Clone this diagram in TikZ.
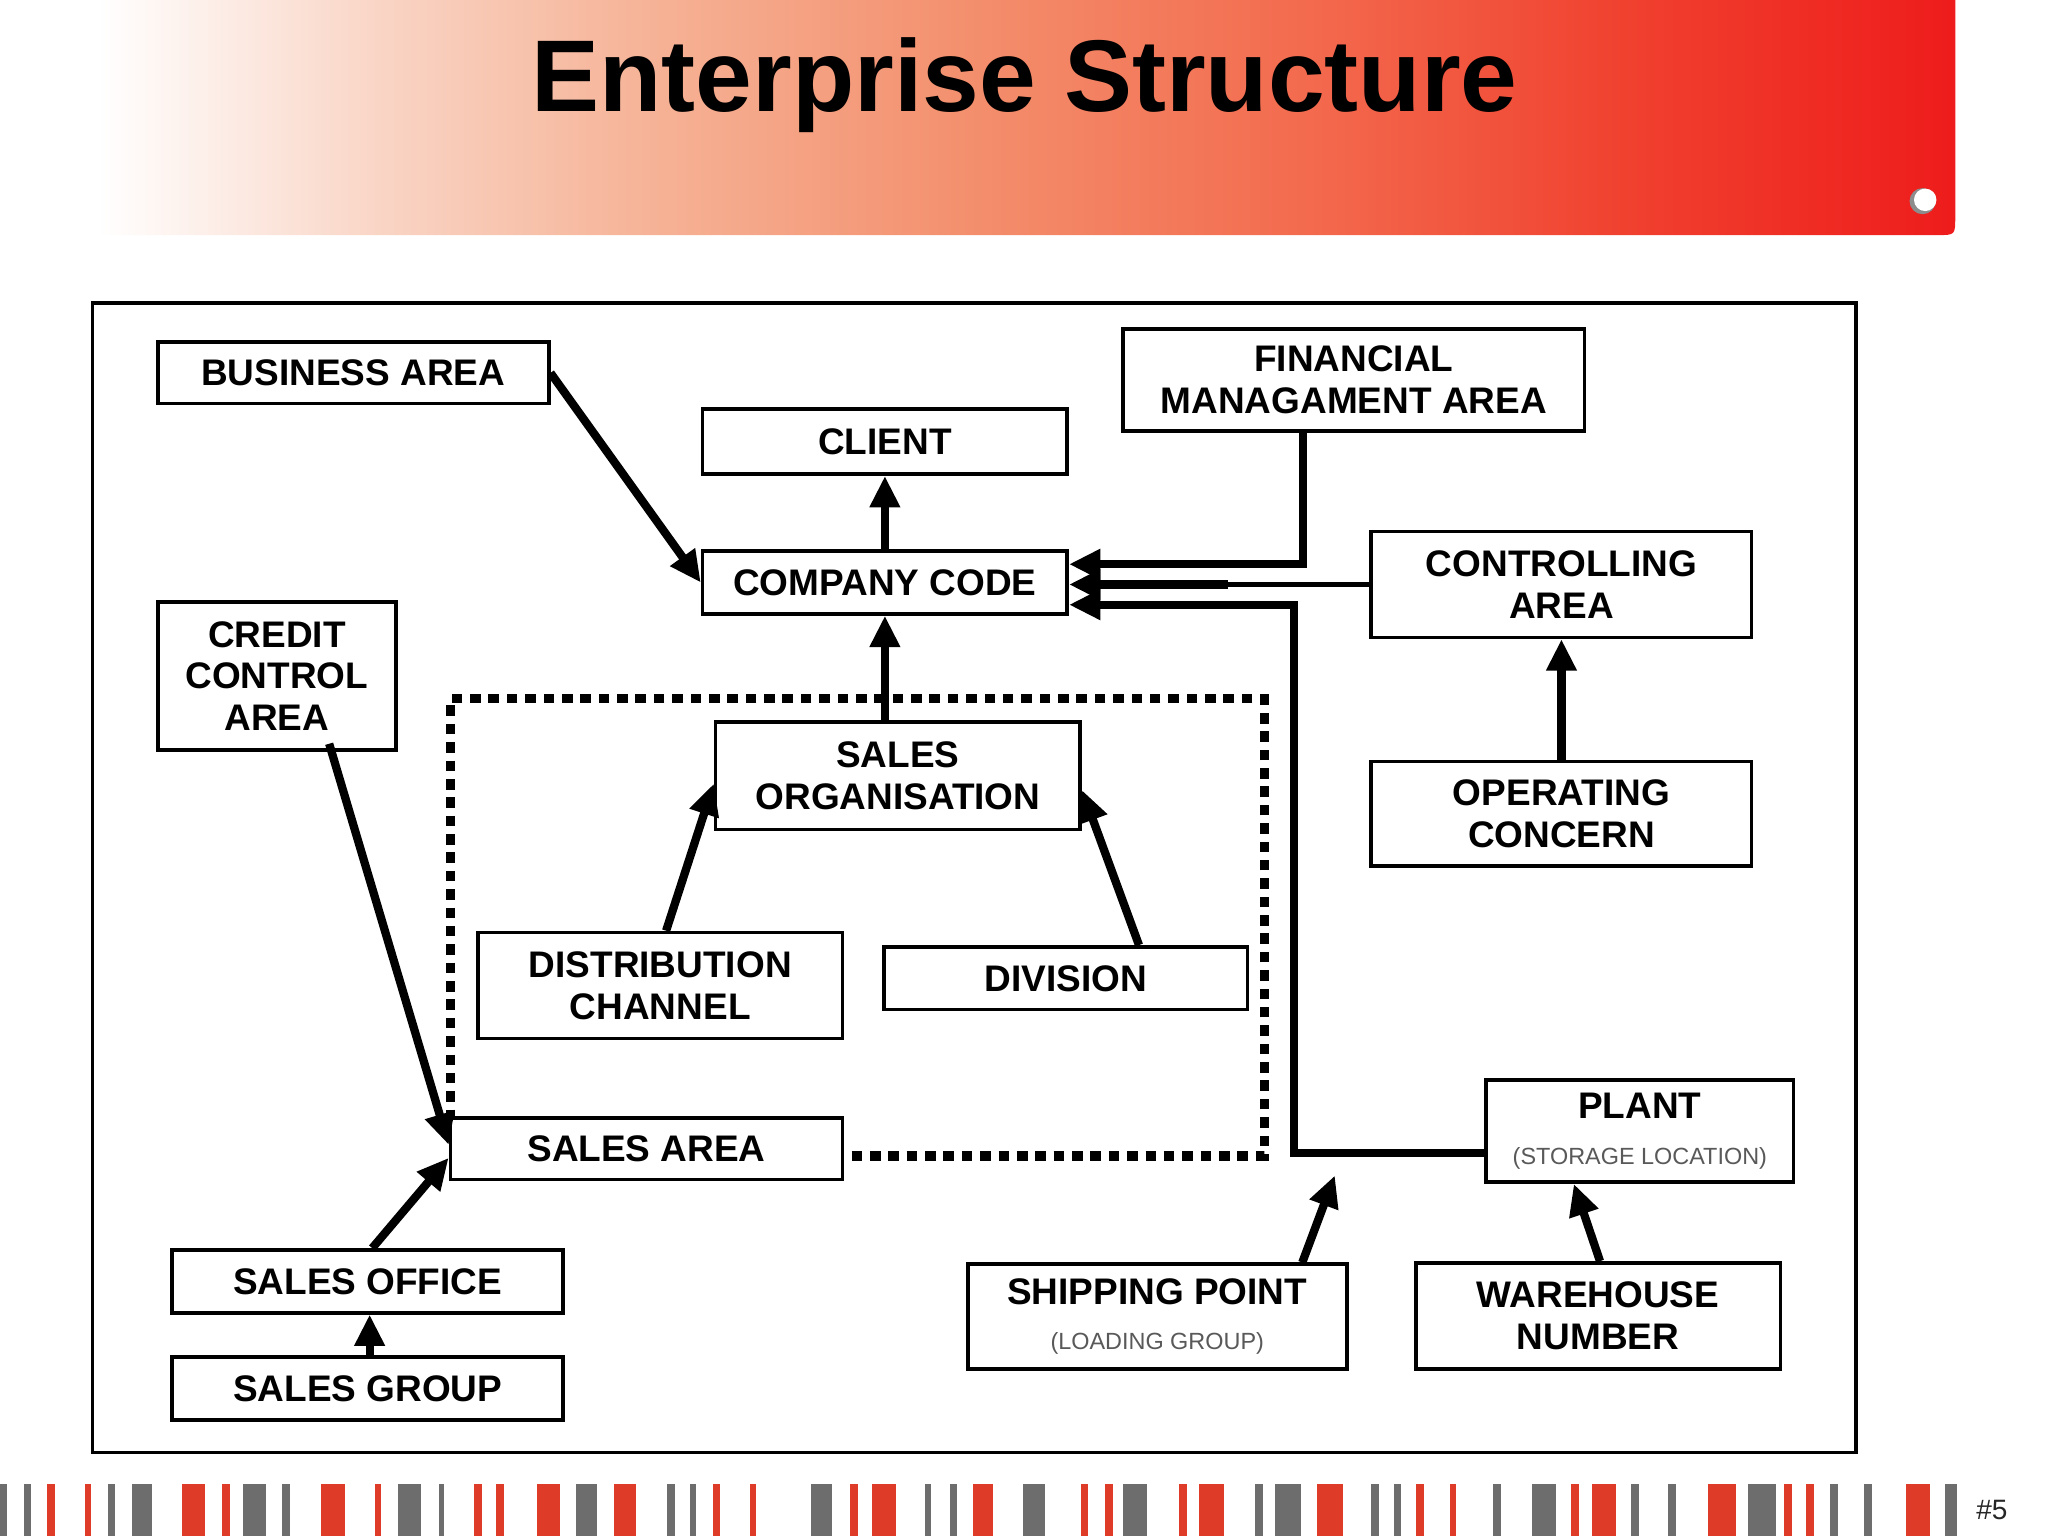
\documentclass[tikz,border=0pt]{standalone}
\usepackage{fontspec}
\setmainfont{Liberation Sans}
\usetikzlibrary{arrows.meta,calc}
\definecolor{hdrA}{HTML}{F9D3C3}
\definecolor{hdrB}{HTML}{F6B397}
\definecolor{hdrC}{HTML}{F38E6C}
\definecolor{hdrD}{HTML}{F36A4E}
\definecolor{hdrE}{HTML}{F0412F}
\definecolor{hdrF}{HTML}{EE1C1C}
\definecolor{bargray}{HTML}{6D6D6D}
\definecolor{barred}{HTML}{DE3B28}
\pgfdeclarehorizontalshading{hdrshade}{100bp}{color(0bp)=(white); color(25bp)=(white); color(27.5bp)=(white); color(35bp)=(hdrA); color(41.5bp)=(hdrB); color(50bp)=(hdrC); color(58.5bp)=(hdrD); color(66.5bp)=(hdrE); color(75bp)=(hdrF); color(100bp)=(hdrF)}
\newcommand\bxfont{\fontsize{8.05}{9.1}\selectfont\bfseries}
\newcommand\subfnt{\fontsize{5.1}{6}\selectfont\mdseries\color{black!65}}
\tikzset{
  box/.style={draw=black, line width=0.8pt, fill=white, inner sep=0pt, align=center, font=\bxfont, text=black},
  arr/.style={line width=1.8pt, -{Triangle[length=0.24cm,width=0.22cm]}},
  thinl/.style={line width=0.9pt},
  dotbox/.style={line width=2pt, dash pattern=on 2.3pt off 1.7pt},
}
\begin{document}
\begin{tikzpicture}[x=0.01cm,y=-0.01cm]
\useasboundingbox (0,0) rectangle (1568,1176);
% header band
\shade[shading=hdrshade] (0,0) -- (1497,0) -- (1497,166) .. controls (1497,180) .. (1483,180) -- (0,180) -- cycle;
\fill[black!45] (1472,154) circle (10);
\fill[white] (1474,153) circle (8.6);
\node[anchor=base, font=\fontsize{22.2}{26}\selectfont\bfseries] (title) at (784.5,85) {Enterprise Structure};
% frame
\draw[line width=0.75pt] (71,232) rectangle (1421,1112);
% boxes
\node[box, minimum width=2.99cm, minimum height=0.47cm] (ba) at (270.5,285.5) {BUSINESS AREA};
\node[box, minimum width=2.79cm, minimum height=0.50cm] (client) at (677.5,338) {CLIENT};
\node[box, minimum width=3.53cm, minimum height=0.78cm] (fma) at (1036.5,291) {FINANCIAL\\MANAGAMENT AREA};
\node[box, minimum width=2.79cm, minimum height=0.48cm] (cc) at (677.5,446) {COMPANY CODE};
\node[box, minimum width=2.91cm, minimum height=0.81cm] (ca) at (1195.5,447.5) {CONTROLLING\\AREA};
\node[box, minimum width=1.82cm, minimum height=1.13cm] (cca) at (212,517.5) {CREDIT\\CONTROL\\AREA};
\node[box, minimum width=2.79cm, minimum height=0.82cm] (so) at (687.5,594) {SALES\\ORGANISATION};
\node[box, minimum width=2.91cm, minimum height=0.80cm] (oc) at (1195.5,623) {OPERATING\\CONCERN};
\node[box, minimum width=2.79cm, minimum height=0.81cm] (dc) at (505.5,754.5) {DISTRIBUTION\\CHANNEL};
\node[box, minimum width=2.78cm, minimum height=0.48cm] (div) at (816,749) {DIVISION};
\node[box, minimum width=2.35cm, minimum height=0.78cm] (plant) at (1255.5,866) {PLANT\\[0.8pt]{\subfnt (STORAGE LOCATION)}};
\node[box, minimum width=3.00cm, minimum height=0.47cm] (sa) at (495,879.5) {SALES AREA};
\node[box, minimum width=2.99cm, minimum height=0.48cm] (sof) at (281.5,981) {SALES OFFICE};
\node[box, minimum width=2.99cm, minimum height=0.48cm] (sg) at (281.5,1063) {SALES GROUP};
\node[box, minimum width=2.90cm, minimum height=0.80cm] (sp) at (886,1008) {SHIPPING POINT\\[0.6pt]{\subfnt (LOADING GROUP)}};
\node[box, minimum width=2.79cm, minimum height=0.81cm] (wh) at (1223.5,1007.5) {WAREHOUSE\\NUMBER};
% dotted sales-area frame
\draw[dotbox] (652,885) -- (968,885) -- (968,535) -- (345,535) -- (345,856);
% connectors
\draw[arr] (ba.east) -- (cc.west);
\draw[arr] (cc.north) -- (client.south);
\draw[arr] (so.north -| cc.north) -- (cc.south);
\draw[arr] ($(fma.south west)!0.39!(fma.south east)$) |- ([yshift=0.14cm]cc.east);
\draw[thinl] (ca.west) -- ++(-108,0) coordinate (cam);
\draw[arr] (cam) -- (cam -| cc.east);
\draw[arr] ([yshift=-0.17cm]plant.west) -- ++(-146,0) |- ([yshift=-0.17cm]cc.east);
\draw[arr] (oc.north) -- (ca.south);
\draw[arr] ([xshift=0.4cm,yshift=0.06cm]cca.south) -- ([yshift=0.03cm]sa.west);
\draw[arr] ([xshift=0.045cm]dc.north) -- ([yshift=-0.06cm]so.west);
\draw[arr] ([xshift=0.56cm]div.north) -- ([yshift=-0.11cm]so.east);
\draw[arr] ([xshift=0.035cm]sof.north) -- ([yshift=-0.07cm]sa.west);
\draw[arr] ([xshift=0.015cm]sg.north) -- ([xshift=0.015cm]sof.south);
\coordinate (spend) at (1022,900);
\draw[arr] ([xshift=1.11cm]sp.north) -- (spend);
\draw[arr] ([xshift=0.015cm]wh.north) -- ([xshift=-0.505cm]plant.south);
% barcode strip
\foreach \a/\b in {0/5,18/24,83/88,101/116,186/204,216/222,305/322,336/340,441/457,511/517,528/533,621/637,708/713,727/733,783/800,860/878,961/967,976/996,1050/1056,1067/1073,1143/1149,1173/1191,1249/1255,1277/1283,1338/1360,1401/1407,1427/1433,1489/1498}
  \fill[bargray] (\a,1136) rectangle (\b,1176);
\foreach \a/\b in {36/42,65/70,139/157,170/176,246/264,287/292,363/369,380/386,411/429,470/487,546/551,574/579,651/657,668/686,745/760,828/833,846/852,903/909,918/937,1008/1028,1084/1090,1110/1115,1203/1209,1219/1237,1308/1329,1366/1372,1383/1389,1459/1478}
  \fill[barred] (\a,1136) rectangle (\b,1176);
\node[font=\fontsize{6.1}{7}\selectfont, text=black!85] (pgno) at (1525,1156) {\#5};
\end{tikzpicture}
\end{document}
